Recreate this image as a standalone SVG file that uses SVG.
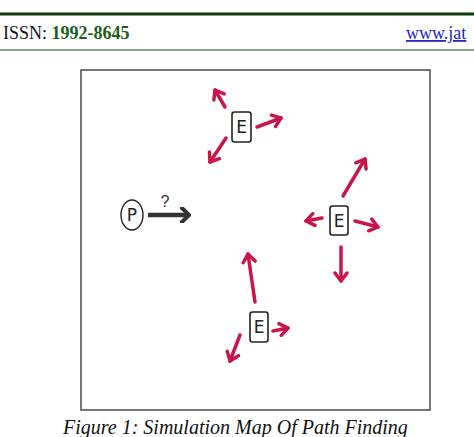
<svg xmlns="http://www.w3.org/2000/svg" width="474" height="437" viewBox="0 0 474 437">
<style>
.hdr{font-family:"Liberation Serif","Times New Roman",serif;font-size:18px}
.ebox{fill:#fff;stroke:#222;stroke-width:1.6}
.elab{font-family:"DejaVu Sans","Liberation Sans",sans-serif;font-size:17px;fill:#222;text-anchor:middle}
.red{stroke:#c8164a;stroke-width:3.5;fill:none;stroke-linecap:round}
.blk{stroke:#333;stroke-width:4.5;fill:none}
</style>
<defs>
<marker id="rh" markerUnits="userSpaceOnUse" viewBox="-10 -8 14 16" markerWidth="14" markerHeight="16" refX="0" refY="0" orient="auto">
<polyline points="-8,-6 0,0 -8,6" fill="none" stroke="#c8164a" stroke-width="3.5" stroke-linecap="round" stroke-linejoin="round"/>
</marker>
<marker id="bh" markerUnits="userSpaceOnUse" viewBox="-10 -8 14 16" markerWidth="14" markerHeight="16" refX="0" refY="0" orient="auto">
<polyline points="-7,-7 0,0 -7,7" fill="none" stroke="#333" stroke-width="4" stroke-linecap="round" stroke-linejoin="round"/>
</marker>
</defs>
<rect width="474" height="437" fill="#fff"/>
<g id="header">
<line x1="0" y1="14" x2="474" y2="14" stroke="#0b3d0b" stroke-width="3"/>
<text class="hdr" x="3" y="39" fill="#111">ISSN: <tspan font-weight="bold" fill="#1a5e1a">1992-8645</tspan></text>
<text class="hdr" x="406" y="39" fill="#2323c8" text-decoration="underline">www.jat</text>
<line x1="0" y1="50" x2="474" y2="50" stroke="#1a4a1a" stroke-width="1.2"/>
</g>
<rect id="frame" x="81" y="70" width="349" height="340" fill="#fff" stroke="#555" stroke-width="1.6"/>
<g id="connectors">
<line class="red" x1="257" y1="127" x2="281" y2="118" marker-end="url(#rh)"/>
<line class="red" x1="225" y1="107" x2="215" y2="90" marker-end="url(#rh)"/>
<line class="red" x1="226" y1="138" x2="210" y2="162" marker-end="url(#rh)"/>
<line class="blk" x1="148" y1="215" x2="189" y2="215" marker-end="url(#bh)"/>
<line class="red" x1="343" y1="196" x2="365" y2="159" marker-end="url(#rh)"/>
<line class="red" x1="322" y1="218" x2="306" y2="221" marker-end="url(#rh)"/>
<line class="red" x1="355" y1="221" x2="378" y2="227" marker-end="url(#rh)"/>
<line class="red" x1="341" y1="247" x2="341" y2="281" marker-end="url(#rh)"/>
<line class="red" x1="255" y1="302" x2="248" y2="254" marker-end="url(#rh)"/>
<line class="red" x1="273" y1="331" x2="288" y2="328" marker-end="url(#rh)"/>
<line class="red" x1="240" y1="335" x2="230" y2="361" marker-end="url(#rh)"/>
</g>
<text id="q" x="165" y="207" font-family="Liberation Sans,sans-serif" font-size="16" fill="#333" text-anchor="middle">?</text>
<g id="P">
<ellipse cx="132" cy="215" rx="11" ry="15" fill="#fff" stroke="#222" stroke-width="1.4"/>
<text class="elab" x="132" y="221">P</text>
</g>
<g id="E1">
<rect class="ebox" x="232" y="112" width="19" height="30" rx="2.5"/>
<text class="elab" x="241.5" y="133">E</text>
</g>
<g id="E2">
<rect class="ebox" x="330" y="206" width="18" height="29" rx="2.5"/>
<text class="elab" x="339" y="227">E</text>
</g>
<g id="E3">
<rect class="ebox" x="250" y="312" width="18" height="30" rx="2.5"/>
<text class="elab" x="259" y="333">E</text>
</g>
<text id="caption" x="63" y="434" font-family="Liberation Serif,serif" font-style="italic" font-size="20" fill="#111">Figure 1: Simulation Map Of Path Finding</text>
</svg>
